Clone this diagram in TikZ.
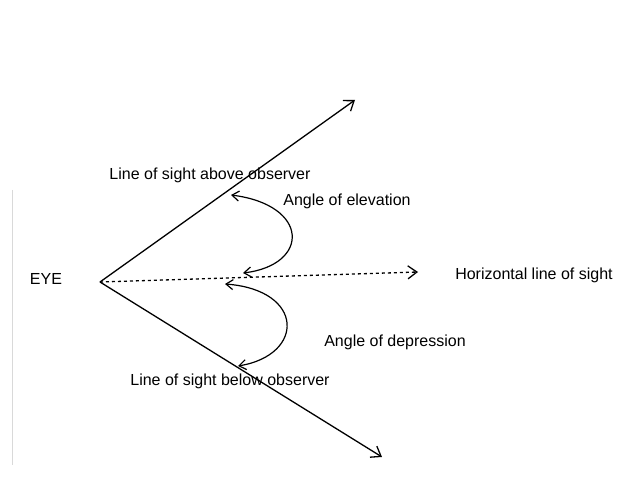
\documentclass[tikz,border=0pt]{standalone}
\usetikzlibrary{arrows.meta}
\usepackage{fontspec}
\setmainfont{Liberation Sans}
\begin{document}
\begin{tikzpicture}[x=1pt,y=-1pt,
  ray/.style={line width=1.3pt,-{Straight Barb[length=9pt,width=13pt]}},
  txt/.style={font=\fontsize{16}{18}\selectfont,inner sep=0pt},
  arc/.style={line width=1.2pt,{Straight Barb[length=7pt,width=10pt]}-{Straight Barb[length=7pt,width=10pt]}}]
\useasboundingbox (0,0) rectangle (638,478);
\draw[gray!30] (12,190) -- (12,465);
\coordinate (E) at (100,282);
\coordinate (U) at (355,100);
\coordinate (D) at (382,457);
\coordinate (H) at (418,272);
\node[txt] (eye) at (46,279) {EYE};
\draw[ray] (E) -- (U);
\draw[ray] (E) -- (D);
\draw[ray,dashed] (E) -- (H);
\node[txt] (hl) at (534,275) {Horizontal line of sight};
\node[txt] (la) at (210,175) {Line of sight above observer};
\node[txt] (ae) at (347,201) {Angle of elevation};
\node[txt] (ad) at (395,342) {Angle of depression};
\node[txt] (lb) at (230,381) {Line of sight below observer};
\coordinate (a1) at (231,195);
\coordinate (a2) at (243,273);
\coordinate (b1) at (225,284);
\coordinate (b2) at (238,366);
\draw[arc] (a1) .. controls (310,205) and (310,265) .. (a2);
\draw[arc] (b1) .. controls (305,290) and (305,355) .. (b2);
\end{tikzpicture}
\end{document}
